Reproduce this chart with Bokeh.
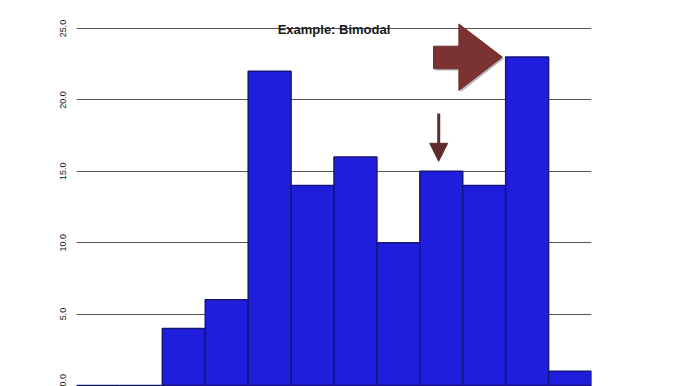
from bokeh.plotting import figure
from bokeh.models import Range1d, Arrow, NormalHead, FixedTicker
from bokeh.core.properties import value
from bokeh.embed import file_html
from bokeh.resources import INLINE

# data
bin_left = [0, 1, 2, 3, 4, 5, 6, 7, 8, 9, 10, 11]
counts = [0, 0, 4, 6, 22, 14, 16, 10, 15, 14, 23, 1]
y_ticks = [0, 5, 10, 15, 20, 25]
title_text = "Example: Bimodal"

p = figure(width=686, height=386, output_backend="svg", toolbar_location=None,
           x_range=Range1d(0, 12), y_range=Range1d(-0.07, 26.96),
           min_border_left=76, min_border_right=95, min_border_top=0,
           min_border_bottom=0)
p.outline_line_color = None
p.xaxis.visible = False
p.xgrid.visible = False
p.ygrid.grid_line_color = "#555555"
p.ygrid.grid_line_width = 1
p.yaxis.ticker = FixedTicker(ticks=y_ticks)
p.yaxis.major_label_overrides = {t: f"{t:.1f}" for t in y_ticks}
p.yaxis.major_label_orientation = "vertical"
p.yaxis.axis_line_color = None
p.yaxis.major_tick_line_color = None
p.yaxis.minor_tick_line_color = None
p.yaxis.major_label_text_font = "Liberation Sans"
p.yaxis.major_label_text_font_size = "9px"
p.yaxis.major_label_text_color = "#111111"
p.yaxis.major_label_standoff = 4

rights = [b + 1 for b in bin_left]
p.quad(left=bin_left, right=rights, bottom=0, top=counts,
       fill_color="#1e1edc", line_color="#15157a", line_width=1.5)

# title
p.text(x=[6.0], y=[24.9], text=[title_text], text_font=value("Liberation Sans"),
       text_font_style="bold", text_font_size="13px", text_color="#1a1a1a",
       text_align="center", text_baseline="alphabetic")

# big block arrow pointing at the tallest bar
tx, ty = bin_left[10] - 0.08, counts[10]
ax = [tx - 1.60, tx - 1.01, tx - 1.01, tx, tx - 1.01, tx - 1.01, tx - 1.60]
ay = [ty + 0.76, ty + 0.76, ty + 2.32, ty, ty - 2.34, ty - 0.82, ty - 0.82]
p.patch([v + 0.04 for v in ax], [v - 0.12 for v in ay], fill_color="#9a9a9a",
        line_color=None, fill_alpha=0.7)
p.patch(ax, ay, fill_color="#7a3232", line_color="#6e2c2c", line_width=1)

# small arrow pointing down at bar 8
sx = bin_left[8] + 0.44
p.add_layout(Arrow(end=NormalHead(size=18, fill_color="#5e2a2a", line_color="#5e2a2a"),
                   x_start=sx, y_start=counts[8] + 4.05, x_end=sx, y_end=counts[8] + 0.7,
                   line_color="#5e2a2a", line_width=3))

open("out.html", "w").write(file_html(p, INLINE))
